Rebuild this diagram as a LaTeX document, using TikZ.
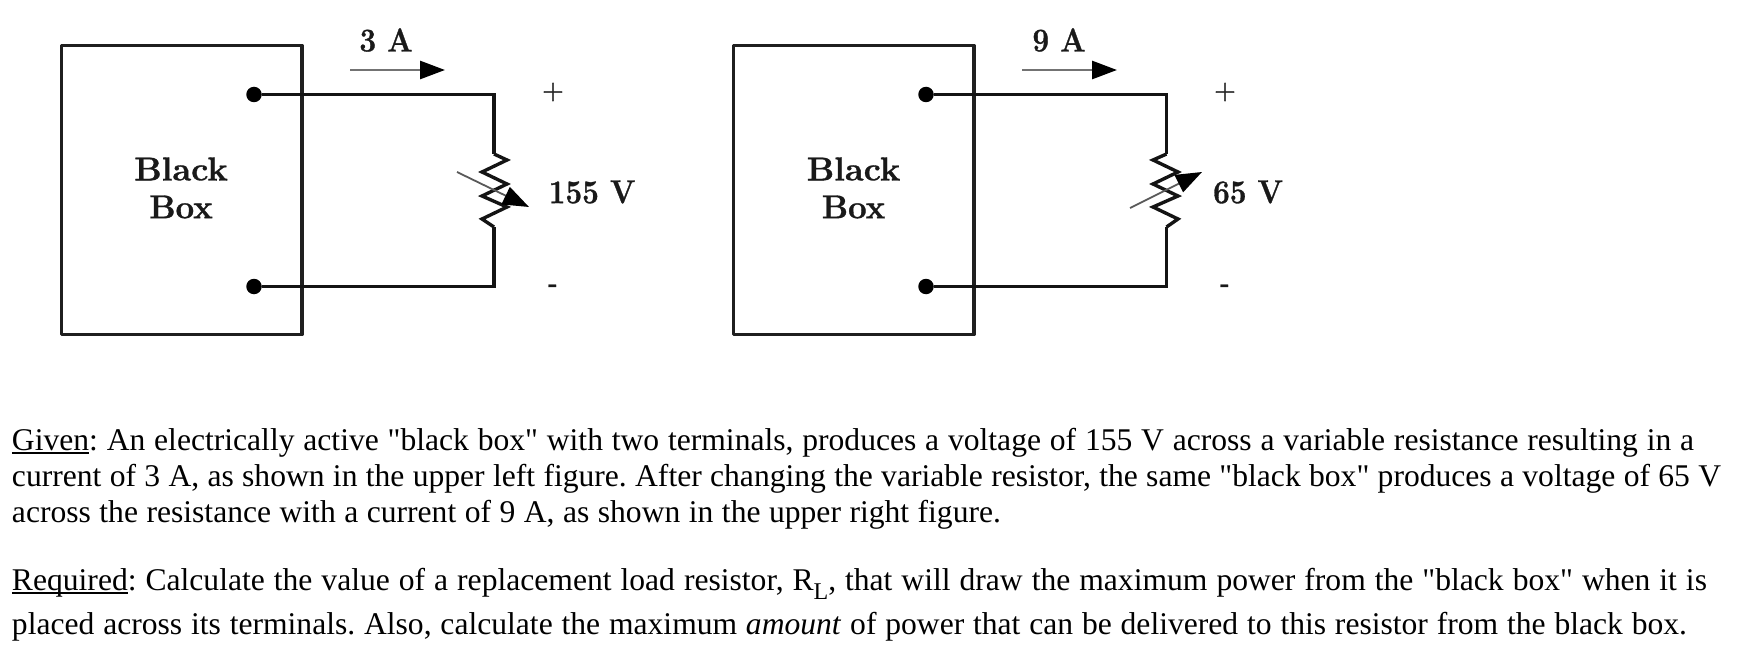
\documentclass[tikz,border=0pt]{standalone}
\usepackage{graphicx}
\usepackage{fontspec}
\usetikzlibrary{arrows.meta}
\newfontfamily\bodyfont{Liberation Serif}
\newfontfamily\figfont{Latin Modern Roman}[BoldFeatures={FakeBold=1.0}]
\newcommand{\figtext}{\figfont\fontsize{33}{38}\selectfont\bfseries}
\newcommand{\bodyline}[2]{\hbox to #1{\fontsize{31.6}{36}\bodyfont\frenchspacing\spaceskip=0.25em plus 0.2em minus 0.2em #2}}
\newcommand{\ul}[1]{\setbox0=\hbox{#1}\rlap{\rule[-4pt]{\wd0}{1.8pt}}\box0}
\newcommand{\nar}[1]{\scalebox{0.9}[1]{#1}}
\tikzset{
  x=1pt,y=-1pt,
  box/.style={draw=black!88,line width=3.2pt,minimum width=240.3pt,minimum height=289pt,anchor=north west,inner sep=0pt,outer sep=0pt,line join=round},
  wire/.style={draw=black!92,line width=3.6pt,line join=miter},
  res/.style={draw=black!92,line width=3.4pt,line join=miter},
  dot/.style={circle,fill=black,inner sep=0pt,minimum size=15.5pt,outer sep=0pt},
  cur/.style={draw=black!55,line width=2.8pt,-{Triangle[length=25pt,width=18pt,color=black,fill=black]}},
  var/.style={draw=black!65,line width=1.8pt,-{Triangle[length=26pt,width=19pt,color=black,fill=black]}},
  flabel/.style={inner sep=0pt,outer sep=0pt,font=\figtext,text=black!90,align=center},
  sign/.style={flabel,font=\figfont\fontsize{25}{30}\selectfont\bfseries},
  body/.style={anchor=base west,inner sep=0pt,outer sep=0pt,text=black}
}
\begin{document}
\begin{tikzpicture}
\useasboundingbox (0,0) rectangle (1738,658);
% left circuit
\node[box] (boxA) at (61.7,45.5) {};
\node[flabel] (blackA) at (181,169) {\scalebox{1.04}[1]{Black}};
\node[flabel] (bboxA) at (181,207) {Box};
\node[dot] (dotA1) at (254,94.5) {};
\node[dot] (dotA2) at (254,286.5) {};
\coordinate (cA1) at (494,94.5);
\coordinate (cA2) at (494,286.5);
\coordinate (rA1) at (494,154);
\coordinate (rA2) at (494,227);
\draw[wire] (dotA1) -- (cA1) -- (rA1);
\draw[wire] (dotA2) -- (cA2) -- (rA2);
\draw[res] (rA1) -- (507,160) -- (482,172) -- (507,184) -- (482,196) -- (507,207) -- (482,219) -- (rA2);
\coordinate (vA1) at (457,172);
\coordinate (vA2) at (529,207);
\draw[var] (vA1) -- (vA2);
\coordinate (iA1) at (350,70);
\coordinate (iA2) at (445,70);
\draw[cur] (iA1) -- (iA2);
\node[flabel] (lA) at (386,40) {\nar{3 A}};
\node[sign] (pA) at (553,92) {+};
\node[sign] (mA) at (553,288) {-};
\node[flabel] (vlA) at (592,192) {\nar{155 V}};
% right circuit
\node[box] (boxB) at (733.7,45.5) {};
\node[flabel] (blackB) at (853.5,169) {\scalebox{1.04}[1]{Black}};
\node[flabel] (bboxB) at (853.5,207) {Box};
\node[dot] (dotB1) at (926,94.5) {};
\node[dot] (dotB2) at (926,286.5) {};
\coordinate (cB1) at (1166.5,94.5);
\coordinate (cB2) at (1166.5,286.5);
\coordinate (rB1) at (1166.5,154);
\coordinate (rB2) at (1166.5,227);
\draw[wire] (dotB1) -- (cB1) -- (rB1);
\draw[wire] (dotB2) -- (cB2) -- (rB2);
\draw[res] (rB1) -- (1153,160) -- (1178,172) -- (1153,184) -- (1178,196) -- (1153,207) -- (1178,219) -- (rB2);
\coordinate (vB1) at (1130,208);
\coordinate (vB2) at (1202,172);
\draw[var] (vB1) -- (vB2);
\coordinate (iB1) at (1022,70);
\coordinate (iB2) at (1117,70);
\draw[cur] (iB1) -- (iB2);
\node[flabel] (lB) at (1059,40) {\nar{9 A}};
\node[sign] (pB) at (1225,92) {+};
\node[sign] (mB) at (1225,288) {-};
\node[flabel] (vlB) at (1248,192) {\nar{65 V}};
% text
\node[body] (t1) at (12,450) {\bodyline{1682pt}{\ul{Given}: An electrically active "black box" with two terminals, produces a voltage of 155 V across a variable resistance resulting in a}};
\node[body] (t2) at (12,486) {\bodyline{1709pt}{current of 3 A, as shown in the upper left figure. After changing the variable resistor, the same "black box" produces a voltage of 65 V}};
\node[body] (t3) at (12,522) {\bodyline{989pt}{across the resistance with a current of 9 A, as shown in the upper right figure.}};
\node[body] (t4) at (12,590) {\bodyline{1695pt}{\ul{Required}: Calculate the value of a replacement load resistor, R\raisebox{-0.3em}{\fontsize{24}{26}\selectfont L}, that will draw the maximum power from the "black box" when it is}};
\node[body] (t5) at (12,634) {\bodyline{1675pt}{placed across its terminals. Also, calculate the maximum \textit{amount} of power that can be delivered to this resistor from the black box.}};
\end{tikzpicture}
\end{document}
